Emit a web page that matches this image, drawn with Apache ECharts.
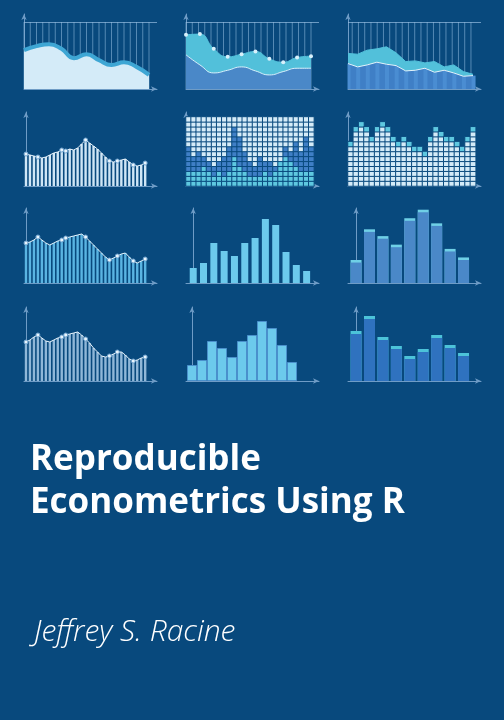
<!DOCTYPE html><html><head><meta charset="utf-8">
<script src="https://cdn.jsdelivr.net/npm/echarts@6/dist/echarts.min.js"></script>
<style>html,body{margin:0;background:#08497d}#c{width:504px;height:720px}</style></head><body><div id="c"></div>
<script>
// ---- data ----
const p1 = [58,64,67,60,46,52,43,36,40,33,21];
const p2Low = [51,36,24,28,33,27,21,26,31,31];
const p2High = [81,82,60,48,52,56,45,40,47,49];
const p3Low = [38,33,36,40,37,35,27,28,31,25,28,24,19,20];
const p3High = [53,52,58,60,63,54,41,42,39,41,33,36,26,22];
const p4 = [32,31,30,29,28,29,31,33,34,36,35,37,36,38,42,46,43,40,37,33,29,25,24,25,26,27,24,21,20,21,23];
const p5Dark = [8,6,7,6,5,4,5,6,8,12,10,7,5,4,6,5,5,4,5,8,7,9,7,10,8];
const p5Teal = [3,3,3,4,3,2,3,2,3,6,4,3,2,2,2,3,2,3,5,6,5,4,3,3,3];
const p6 = [9,12,13,12,10,12,13,12,10,9,10,9,8,8,7,10,12,11,10,10,9,8,10,12];
const p7 = [40,41,43,46,43,40,38,40,42,43,45,46,47,48,49,46,42,38,34,30,26,23,25,27,29,30,26,22,20,22,24];
const p8 = [15,20,40,32,27,40,45,64,58,31,18,12];
const p9 = [24,60,52,42,73,83,67,37,27];
const p10 = [39,41,44,46,43,40,39,41,43,44,46,47,48,49,46,42,38,33,29,25,24,25,27,29,29,26,22,20,21,23,24];
const p11 = [16,21,40,33,24,40,46,60,53,36,19];
const p12 = [47,62,41,32,22,29,43,33,25];
const markIdx4 = [0,10,15,23,30];
const title1 = 'Reproducible', title2 = 'Econometrics Using R', author = 'Jeffrey S. Racine';

// ---- layout helpers ----
const AX = '#6f9cc6';
const cols = [24,186,348], rows = [[14,89],[112,186],[208,283],[307,381]];
const grid=[], xAxis=[], yAxis=[], series=[];
const axl = {show:true, symbol:['none','arrow'], symbolSize:[4,6], lineStyle:{color:AX,width:1}};
function addGrid(r,c,xa,ya){
  const g=grid.length;
  grid.push({left:cols[c], top:rows[r][0], width:133, height:rows[r][1]-rows[r][0]});
  xAxis.push(Object.assign({gridIndex:g, axisLine:axl, axisTick:{show:false}, axisLabel:{show:false}, splitLine:{show:false}},xa));
  yAxis.push(Object.assign({gridIndex:g, axisLine:axl, axisTick:{show:false}, axisLabel:{show:false}, splitLine:{show:false}},ya));
  return g;
}
const pairs = a => a.map((v,i)=>[i,v]);
function frame(g,n,max,count){
  const xs=[]; for(let k=0;k<count;k++) xs.push([k*(n-1)/(count-1),100]);
  series.push({type:'bar',xAxisIndex:g,yAxisIndex:g,data:xs,barWidth:1,itemStyle:{color:'rgba(150,190,225,0.55)'},silent:true,z:1,
    markLine:{silent:true,symbol:'none',label:{show:false},lineStyle:{color:'rgba(150,190,225,0.7)',type:'solid',width:1},data:[{yAxis:100}]}});
}
// panel 1
let g=addGrid(0,0,{type:'value',min:0,max:10*133/125},{type:'value',min:0,max:112});
frame(g,11,112,21);
series.push({type:'line',xAxisIndex:g,yAxisIndex:g,data:pairs(p1),smooth:true,symbol:'none',lineStyle:{color:'#3ea6d4',width:4},areaStyle:{color:'#d4ebf8',opacity:1},z:3});
// panel 2 (top area drawn first, bottom area over it)
g=addGrid(0,1,{type:'value',min:0,max:9*133/125},{type:'value',min:0,max:112});
frame(g,10,112,21);
series.push({type:'line',xAxisIndex:g,yAxisIndex:g,data:pairs(p2High),smooth:true,symbol:'circle',symbolSize:4,
  itemStyle:{color:'#d8f0fb'},lineStyle:{color:'#52c2dc',width:1},areaStyle:{color:'#52c0da',opacity:1},z:3});
series.push({type:'line',xAxisIndex:g,yAxisIndex:g,data:pairs(p2Low),smooth:true,symbol:'none',lineStyle:{color:'#d8f0fb',width:1},areaStyle:{color:'#4a88c8',opacity:1},z:4});
// panel 3
g=addGrid(0,2,{type:'value',min:0,max:13*133/125},{type:'value',min:0,max:112});
frame(g,14,112,21);
series.push({type:'line',xAxisIndex:g,yAxisIndex:g,data:pairs(p3High),symbol:'none',lineStyle:{color:'#52c2dc',width:1},areaStyle:{color:'#52c0da',opacity:1},z:3});
series.push({type:'line',xAxisIndex:g,yAxisIndex:g,data:pairs(p3Low),symbol:'none',lineStyle:{color:'#e3f3fb',width:1},areaStyle:{color:'#3f7fc6',opacity:1},z:4});
series.push({type:'bar',xAxisIndex:g,yAxisIndex:g,data:pairs(p3Low),barWidth:4,itemStyle:{color:'#4a8dd2'},z:4});
// bar+line panels
function barLine(r,arr,barCol,lineCol){
  const gg=addGrid(r,0,{type:'value',min:-0.5,max:(arr.length-1)*133/121},{type:'value',min:0,max:rows[r][1]-rows[r][0]});
  series.push({type:'bar',xAxisIndex:gg,yAxisIndex:gg,data:pairs(arr),barWidth:2.4,itemStyle:{color:barCol},z:3});
  series.push({type:'line',xAxisIndex:gg,yAxisIndex:gg,data:arr.map((v,i)=>({value:[i,v],symbol:markIdx4.includes(i)||i%6===3?'circle':'none'})),
    symbolSize:4,itemStyle:{color:'#e8f4fc',borderColor:'#6fa3cf'},lineStyle:{color:lineCol,width:1},z:4});
}
barLine(1,p4,'#cfe6f6','#e8f4fc');
barLine(2,p7,'#5ab4e2','#e8f4fc');
barLine(3,p10,'#8fb7d8','#e8f4fc');
// heatmap panels
const nR=15;
function hm(r,c,nc,data,colors){
  const gg=grid.length;
  const xd=[...Array(nc+1).keys()], yd=[...Array(nR).keys()];
  addGrid(r,c,{type:'category',data:xd,boundaryGap:true},{type:'category',data:yd,boundaryGap:true});
  series.push({type:'heatmap',xAxisIndex:gg,yAxisIndex:gg,data:data.map(d=>({value:d,itemStyle:{color:colors[d[2]]}})),
    itemStyle:{borderColor:'#08497d',borderWidth:1},z:3});
}
const d5=[];
p5Dark.forEach((h,i)=>{for(let j=0;j<14;j++) d5.push([i,j,j<p5Teal[i]?2:(j<h?1:0)]);});
hm(1,1,25,d5,['#d4ebf8','#3f7fc6','#5ec8e0']);
const d6=[];
p6.forEach((h,i)=>{for(let j=0;j<h;j++) d6.push([i,j,j===h-1?1:0]);});
hm(1,2,24,d6,['#d4ebf8','#5ec8e0']);
// histogram panels
function hist(r,c,arr,gap,bw,col,lo,hi,max){
  const gg=addGrid(r,c,{type:'value',min:lo,max:hi},{type:'value',min:0,max:max});
  series.push({type:'bar',xAxisIndex:gg,yAxisIndex:gg,data:pairs(arr),barWidth:bw,itemStyle:{color:col,borderColor:gap?'#4a90cc':col,borderWidth:gap?1:0},z:3});
}
hist(2,1,p8,false,7,'#6ccaec',-0.7,12.2,75);
hist(3,1,p11,true,10,'#6ccaec',-0.6,12.7,74);
// 3D-ish bars: cap drawn behind body, overlapping
function bar3d(r,arr,col,cap,max){
  const gg=addGrid(r,2,{type:'value',min:-0.6,max:9.3},{type:'value',min:0,max:max});
  series.push({type:'bar',xAxisIndex:gg,yAxisIndex:gg,data:arr.map((v,i)=>[i,v+3]),barWidth:11,barGap:'-100%',itemStyle:{color:cap},z:3});
  series.push({type:'bar',xAxisIndex:gg,yAxisIndex:gg,data:pairs(arr),barWidth:11,barGap:'-100%',itemStyle:{color:col},z:4});
}
bar3d(2,p9,'#4a88c8','#6fd0e6',88);
bar3d(3,p12,'#2f72bf','#4cc3d9',74);

const chart=echarts.init(document.getElementById('c'));
chart.setOption({backgroundColor:'#08497d',animation:false,grid,xAxis,yAxis,series,
  graphic:[
    {type:'text',left:30,top:443,style:{text:title1,fill:'#fff',font:'bold 35px "Open Sans"'}},
    {type:'text',left:30,top:486,style:{text:title2,fill:'#fff',font:'bold 35px "Open Sans"'}},
    {type:'text',left:34,top:617,style:{text:author,fill:'#fff',font:'italic 300 30px "Open Sans"'}}
  ]});
</script></body></html>
